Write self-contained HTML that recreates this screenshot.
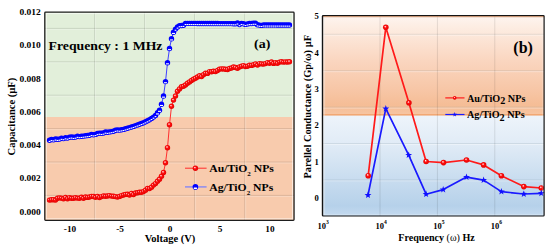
<!DOCTYPE html>
<html><head><meta charset="utf-8"><style>
html,body{margin:0;padding:0;background:#fff;}
body{width:550px;height:249px;overflow:hidden;position:relative;font-family:"Liberation Serif", serif;}
</style></head><body>
<svg width="550" height="249" viewBox="0 0 550 249" style="position:absolute;left:0;top:0">
<defs>
<radialGradient id="rball" cx="0.5" cy="0.5" r="0.55" fx="0.38" fy="0.33"><stop offset="0" stop-color="#ffffff"/><stop offset="0.18" stop-color="#ff9a9a"/><stop offset="0.4" stop-color="#ff1010"/><stop offset="1" stop-color="#e00000"/></radialGradient>
<linearGradient id="gor" x1="0" y1="0" x2="0" y2="1"><stop offset="0" stop-color="#fef5f1"/><stop offset="0.1" stop-color="#fdeee4"/><stop offset="0.45" stop-color="#fad6c0"/><stop offset="0.75" stop-color="#f7c6a6"/><stop offset="0.9" stop-color="#f5bd96"/><stop offset="1" stop-color="#f7c5a2"/></linearGradient>
<linearGradient id="gbl" x1="0" y1="0" x2="0" y2="1"><stop offset="0" stop-color="#eef4fb"/><stop offset="0.3" stop-color="#e0ebf6"/><stop offset="0.9" stop-color="#b6d1ea"/><stop offset="1" stop-color="#c4daef"/></linearGradient>
<clipPath id="clipL"><rect x="45" y="12.5" width="249" height="207.5"/></clipPath>
<clipPath id="clipR"><rect x="323" y="16.5" width="221.5" height="199"/></clipPath>
</defs>
<rect x="44.8" y="12.1" width="249.25" height="104.9" fill="#e2efda"/>
<rect x="44.8" y="117.0" width="249.25" height="103.30000000000001" fill="#f8cbad"/>
<line x1="44.8" x2="294.05" y1="28.40" y2="28.40" stroke="#000" stroke-opacity="0.11" stroke-width="1"/>
<line x1="44.8" x2="294.05" y1="29.40" y2="29.40" stroke="#fff" stroke-opacity="0.25" stroke-width="1"/>
<line x1="44.8" x2="294.05" y1="61.80" y2="61.80" stroke="#000" stroke-opacity="0.11" stroke-width="1"/>
<line x1="44.8" x2="294.05" y1="62.80" y2="62.80" stroke="#fff" stroke-opacity="0.25" stroke-width="1"/>
<line x1="44.8" x2="294.05" y1="95.20" y2="95.20" stroke="#000" stroke-opacity="0.11" stroke-width="1"/>
<line x1="44.8" x2="294.05" y1="96.20" y2="96.20" stroke="#fff" stroke-opacity="0.25" stroke-width="1"/>
<line x1="44.8" x2="294.05" y1="128.60" y2="128.60" stroke="#000" stroke-opacity="0.11" stroke-width="1"/>
<line x1="44.8" x2="294.05" y1="129.60" y2="129.60" stroke="#fff" stroke-opacity="0.25" stroke-width="1"/>
<line x1="44.8" x2="294.05" y1="162.00" y2="162.00" stroke="#000" stroke-opacity="0.11" stroke-width="1"/>
<line x1="44.8" x2="294.05" y1="163.00" y2="163.00" stroke="#fff" stroke-opacity="0.25" stroke-width="1"/>
<line x1="44.8" x2="294.05" y1="195.40" y2="195.40" stroke="#000" stroke-opacity="0.11" stroke-width="1"/>
<line x1="44.8" x2="294.05" y1="196.40" y2="196.40" stroke="#fff" stroke-opacity="0.25" stroke-width="1"/>
<line x1="94.60" x2="94.60" y1="12.1" y2="220.3" stroke="#000" stroke-opacity="0.11" stroke-width="1"/>
<line x1="95.60" x2="95.60" y1="12.1" y2="220.3" stroke="#fff" stroke-opacity="0.25" stroke-width="1"/>
<line x1="144.60" x2="144.60" y1="12.1" y2="220.3" stroke="#000" stroke-opacity="0.11" stroke-width="1"/>
<line x1="145.60" x2="145.60" y1="12.1" y2="220.3" stroke="#fff" stroke-opacity="0.25" stroke-width="1"/>
<line x1="194.60" x2="194.60" y1="12.1" y2="220.3" stroke="#000" stroke-opacity="0.11" stroke-width="1"/>
<line x1="195.60" x2="195.60" y1="12.1" y2="220.3" stroke="#fff" stroke-opacity="0.25" stroke-width="1"/>
<line x1="244.70" x2="244.70" y1="12.1" y2="220.3" stroke="#000" stroke-opacity="0.11" stroke-width="1"/>
<line x1="245.70" x2="245.70" y1="12.1" y2="220.3" stroke="#fff" stroke-opacity="0.25" stroke-width="1"/>
<g clip-path="url(#clipL)">
<polyline fill="none" stroke="#ff3030" stroke-width="1" points="49.5,200.1 51.5,199.8 53.5,199.7 55.5,200.0 57.5,198.2 59.5,197.9 61.5,198.1 63.5,198.8 65.5,197.5 67.5,198.7 69.5,197.7 71.5,198.2 73.5,198.3 75.5,197.7 77.5,198.1 79.5,198.3 81.5,197.2 83.5,198.2 85.5,197.0 87.5,197.4 89.5,197.0 91.5,196.4 93.5,196.5 95.5,197.3 97.5,196.5 99.5,197.5 101.5,196.6 103.5,195.9 105.5,196.3 107.5,196.0 109.5,195.6 111.5,196.1 113.5,196.3 115.5,196.6 117.5,197.1 119.5,196.4 121.5,195.6 123.5,195.0 125.5,194.4 127.5,194.3 129.5,195.0 131.5,193.4 133.5,194.6 135.5,193.0 137.5,192.8 139.5,192.2 141.5,192.3 143.5,191.6 145.5,190.2 147.5,188.5 149.5,188.6 151.5,187.3 153.5,185.1 155.5,183.6 157.5,181.3 159.5,179.2 161.5,176.3 163.5,172.5 165.5,162.8 167.5,147.7 169.5,124.8 171.5,106.2 173.5,100.1 175.5,96.0 177.5,91.3 179.5,88.9 181.5,86.8 183.5,86.2 185.5,85.0 187.5,83.2 189.5,81.9 191.5,80.5 193.5,79.3 195.5,78.3 197.5,77.0 199.5,75.8 201.5,76.6 203.5,74.7 205.5,73.3 207.5,73.4 209.5,71.6 211.5,71.8 213.5,71.2 215.5,71.6 217.5,70.5 219.5,69.1 221.5,68.9 223.5,68.9 225.5,69.2 227.5,69.5 229.5,68.5 231.5,68.0 233.5,67.0 235.5,67.5 237.5,68.2 239.5,66.9 241.5,66.3 243.5,65.6 245.5,66.5 247.5,66.2 249.5,65.3 251.5,65.4 253.5,64.8 255.5,63.9 257.5,65.1 259.5,63.6 261.5,63.9 263.5,64.1 265.5,63.6 267.5,62.6 269.5,63.2 271.5,62.0 273.5,63.4 275.5,62.7 277.5,63.3 279.5,62.1 281.5,61.7 283.5,62.1 285.5,61.9 287.5,62.0 289.5,61.8"/>
<circle cx="49.5" cy="200.1" r="2.7" fill="url(#rball)"/>
<circle cx="51.5" cy="199.8" r="2.7" fill="url(#rball)"/>
<circle cx="53.5" cy="199.7" r="2.7" fill="url(#rball)"/>
<circle cx="55.5" cy="200.0" r="2.7" fill="url(#rball)"/>
<circle cx="57.5" cy="198.2" r="2.7" fill="url(#rball)"/>
<circle cx="59.5" cy="197.9" r="2.7" fill="url(#rball)"/>
<circle cx="61.5" cy="198.1" r="2.7" fill="url(#rball)"/>
<circle cx="63.5" cy="198.8" r="2.7" fill="url(#rball)"/>
<circle cx="65.5" cy="197.5" r="2.7" fill="url(#rball)"/>
<circle cx="67.5" cy="198.7" r="2.7" fill="url(#rball)"/>
<circle cx="69.5" cy="197.7" r="2.7" fill="url(#rball)"/>
<circle cx="71.5" cy="198.2" r="2.7" fill="url(#rball)"/>
<circle cx="73.5" cy="198.3" r="2.7" fill="url(#rball)"/>
<circle cx="75.5" cy="197.7" r="2.7" fill="url(#rball)"/>
<circle cx="77.5" cy="198.1" r="2.7" fill="url(#rball)"/>
<circle cx="79.5" cy="198.3" r="2.7" fill="url(#rball)"/>
<circle cx="81.5" cy="197.2" r="2.7" fill="url(#rball)"/>
<circle cx="83.5" cy="198.2" r="2.7" fill="url(#rball)"/>
<circle cx="85.5" cy="197.0" r="2.7" fill="url(#rball)"/>
<circle cx="87.5" cy="197.4" r="2.7" fill="url(#rball)"/>
<circle cx="89.5" cy="197.0" r="2.7" fill="url(#rball)"/>
<circle cx="91.5" cy="196.4" r="2.7" fill="url(#rball)"/>
<circle cx="93.5" cy="196.5" r="2.7" fill="url(#rball)"/>
<circle cx="95.5" cy="197.3" r="2.7" fill="url(#rball)"/>
<circle cx="97.5" cy="196.5" r="2.7" fill="url(#rball)"/>
<circle cx="99.5" cy="197.5" r="2.7" fill="url(#rball)"/>
<circle cx="101.5" cy="196.6" r="2.7" fill="url(#rball)"/>
<circle cx="103.5" cy="195.9" r="2.7" fill="url(#rball)"/>
<circle cx="105.5" cy="196.3" r="2.7" fill="url(#rball)"/>
<circle cx="107.5" cy="196.0" r="2.7" fill="url(#rball)"/>
<circle cx="109.5" cy="195.6" r="2.7" fill="url(#rball)"/>
<circle cx="111.5" cy="196.1" r="2.7" fill="url(#rball)"/>
<circle cx="113.5" cy="196.3" r="2.7" fill="url(#rball)"/>
<circle cx="115.5" cy="196.6" r="2.7" fill="url(#rball)"/>
<circle cx="117.5" cy="197.1" r="2.7" fill="url(#rball)"/>
<circle cx="119.5" cy="196.4" r="2.7" fill="url(#rball)"/>
<circle cx="121.5" cy="195.6" r="2.7" fill="url(#rball)"/>
<circle cx="123.5" cy="195.0" r="2.7" fill="url(#rball)"/>
<circle cx="125.5" cy="194.4" r="2.7" fill="url(#rball)"/>
<circle cx="127.5" cy="194.3" r="2.7" fill="url(#rball)"/>
<circle cx="129.5" cy="195.0" r="2.7" fill="url(#rball)"/>
<circle cx="131.5" cy="193.4" r="2.7" fill="url(#rball)"/>
<circle cx="133.5" cy="194.6" r="2.7" fill="url(#rball)"/>
<circle cx="135.5" cy="193.0" r="2.7" fill="url(#rball)"/>
<circle cx="137.5" cy="192.8" r="2.7" fill="url(#rball)"/>
<circle cx="139.5" cy="192.2" r="2.7" fill="url(#rball)"/>
<circle cx="141.5" cy="192.3" r="2.7" fill="url(#rball)"/>
<circle cx="143.5" cy="191.6" r="2.7" fill="url(#rball)"/>
<circle cx="145.5" cy="190.2" r="2.7" fill="url(#rball)"/>
<circle cx="147.5" cy="188.5" r="2.7" fill="url(#rball)"/>
<circle cx="149.5" cy="188.6" r="2.7" fill="url(#rball)"/>
<circle cx="151.5" cy="187.3" r="2.7" fill="url(#rball)"/>
<circle cx="153.5" cy="185.1" r="2.7" fill="url(#rball)"/>
<circle cx="155.5" cy="183.6" r="2.7" fill="url(#rball)"/>
<circle cx="157.5" cy="181.3" r="2.7" fill="url(#rball)"/>
<circle cx="159.5" cy="179.2" r="2.7" fill="url(#rball)"/>
<circle cx="161.5" cy="176.3" r="2.7" fill="url(#rball)"/>
<circle cx="163.5" cy="172.5" r="2.7" fill="url(#rball)"/>
<circle cx="165.5" cy="162.8" r="2.7" fill="url(#rball)"/>
<circle cx="167.5" cy="147.7" r="2.7" fill="url(#rball)"/>
<circle cx="169.5" cy="124.8" r="2.7" fill="url(#rball)"/>
<circle cx="171.5" cy="106.2" r="2.7" fill="url(#rball)"/>
<circle cx="173.5" cy="100.1" r="2.7" fill="url(#rball)"/>
<circle cx="175.5" cy="96.0" r="2.7" fill="url(#rball)"/>
<circle cx="177.5" cy="91.3" r="2.7" fill="url(#rball)"/>
<circle cx="179.5" cy="88.9" r="2.7" fill="url(#rball)"/>
<circle cx="181.5" cy="86.8" r="2.7" fill="url(#rball)"/>
<circle cx="183.5" cy="86.2" r="2.7" fill="url(#rball)"/>
<circle cx="185.5" cy="85.0" r="2.7" fill="url(#rball)"/>
<circle cx="187.5" cy="83.2" r="2.7" fill="url(#rball)"/>
<circle cx="189.5" cy="81.9" r="2.7" fill="url(#rball)"/>
<circle cx="191.5" cy="80.5" r="2.7" fill="url(#rball)"/>
<circle cx="193.5" cy="79.3" r="2.7" fill="url(#rball)"/>
<circle cx="195.5" cy="78.3" r="2.7" fill="url(#rball)"/>
<circle cx="197.5" cy="77.0" r="2.7" fill="url(#rball)"/>
<circle cx="199.5" cy="75.8" r="2.7" fill="url(#rball)"/>
<circle cx="201.5" cy="76.6" r="2.7" fill="url(#rball)"/>
<circle cx="203.5" cy="74.7" r="2.7" fill="url(#rball)"/>
<circle cx="205.5" cy="73.3" r="2.7" fill="url(#rball)"/>
<circle cx="207.5" cy="73.4" r="2.7" fill="url(#rball)"/>
<circle cx="209.5" cy="71.6" r="2.7" fill="url(#rball)"/>
<circle cx="211.5" cy="71.8" r="2.7" fill="url(#rball)"/>
<circle cx="213.5" cy="71.2" r="2.7" fill="url(#rball)"/>
<circle cx="215.5" cy="71.6" r="2.7" fill="url(#rball)"/>
<circle cx="217.5" cy="70.5" r="2.7" fill="url(#rball)"/>
<circle cx="219.5" cy="69.1" r="2.7" fill="url(#rball)"/>
<circle cx="221.5" cy="68.9" r="2.7" fill="url(#rball)"/>
<circle cx="223.5" cy="68.9" r="2.7" fill="url(#rball)"/>
<circle cx="225.5" cy="69.2" r="2.7" fill="url(#rball)"/>
<circle cx="227.5" cy="69.5" r="2.7" fill="url(#rball)"/>
<circle cx="229.5" cy="68.5" r="2.7" fill="url(#rball)"/>
<circle cx="231.5" cy="68.0" r="2.7" fill="url(#rball)"/>
<circle cx="233.5" cy="67.0" r="2.7" fill="url(#rball)"/>
<circle cx="235.5" cy="67.5" r="2.7" fill="url(#rball)"/>
<circle cx="237.5" cy="68.2" r="2.7" fill="url(#rball)"/>
<circle cx="239.5" cy="66.9" r="2.7" fill="url(#rball)"/>
<circle cx="241.5" cy="66.3" r="2.7" fill="url(#rball)"/>
<circle cx="243.5" cy="65.6" r="2.7" fill="url(#rball)"/>
<circle cx="245.5" cy="66.5" r="2.7" fill="url(#rball)"/>
<circle cx="247.5" cy="66.2" r="2.7" fill="url(#rball)"/>
<circle cx="249.5" cy="65.3" r="2.7" fill="url(#rball)"/>
<circle cx="251.5" cy="65.4" r="2.7" fill="url(#rball)"/>
<circle cx="253.5" cy="64.8" r="2.7" fill="url(#rball)"/>
<circle cx="255.5" cy="63.9" r="2.7" fill="url(#rball)"/>
<circle cx="257.5" cy="65.1" r="2.7" fill="url(#rball)"/>
<circle cx="259.5" cy="63.6" r="2.7" fill="url(#rball)"/>
<circle cx="261.5" cy="63.9" r="2.7" fill="url(#rball)"/>
<circle cx="263.5" cy="64.1" r="2.7" fill="url(#rball)"/>
<circle cx="265.5" cy="63.6" r="2.7" fill="url(#rball)"/>
<circle cx="267.5" cy="62.6" r="2.7" fill="url(#rball)"/>
<circle cx="269.5" cy="63.2" r="2.7" fill="url(#rball)"/>
<circle cx="271.5" cy="62.0" r="2.7" fill="url(#rball)"/>
<circle cx="273.5" cy="63.4" r="2.7" fill="url(#rball)"/>
<circle cx="275.5" cy="62.7" r="2.7" fill="url(#rball)"/>
<circle cx="277.5" cy="63.3" r="2.7" fill="url(#rball)"/>
<circle cx="279.5" cy="62.1" r="2.7" fill="url(#rball)"/>
<circle cx="281.5" cy="61.7" r="2.7" fill="url(#rball)"/>
<circle cx="283.5" cy="62.1" r="2.7" fill="url(#rball)"/>
<circle cx="285.5" cy="61.9" r="2.7" fill="url(#rball)"/>
<circle cx="287.5" cy="62.0" r="2.7" fill="url(#rball)"/>
<circle cx="289.5" cy="61.8" r="2.7" fill="url(#rball)"/>
<polyline fill="none" stroke="#4040ff" stroke-width="1" points="49.5,140.3 51.5,139.5 53.5,139.8 55.5,139.0 57.5,139.3 59.5,139.1 61.5,138.2 63.5,138.6 65.5,137.7 67.5,138.1 69.5,137.2 71.5,137.0 73.5,137.3 75.5,137.1 77.5,136.2 79.5,136.6 81.5,136.3 83.5,136.1 85.5,135.8 87.5,135.5 89.5,135.3 91.5,134.4 93.5,134.8 95.5,134.4 97.5,133.5 99.5,133.1 101.5,133.3 103.5,133.0 105.5,132.0 107.5,132.3 109.5,131.9 111.5,131.6 113.5,131.2 115.5,130.2 117.5,129.9 119.5,130.1 121.5,129.8 123.5,129.4 125.5,128.8 127.5,128.2 129.5,127.6 131.5,127.0 133.5,126.4 135.5,125.6 137.5,124.9 139.5,124.2 141.5,123.4 143.5,122.7 145.5,121.7 147.5,120.7 149.5,119.7 151.5,118.4 153.5,117.1 155.5,115.4 157.5,112.8 159.5,110.2 161.5,104.3 163.5,96.0 165.5,81.6 167.5,62.7 169.5,48.5 171.5,38.8 173.5,32.3 175.5,29.1 177.5,27.0 179.5,25.6 181.5,25.5 183.5,25.3 185.5,23.4 187.5,23.4 189.5,23.4 191.5,23.4 193.5,23.4 195.5,23.4 197.5,23.5 199.5,23.5 201.5,23.5 203.5,23.5 205.5,23.5 207.5,23.5 209.5,23.5 211.5,23.5 213.5,23.5 215.5,23.5 217.5,23.5 219.5,23.6 221.5,23.6 223.5,23.6 225.5,23.6 227.5,23.6 229.5,23.6 231.5,23.6 233.5,23.7 235.5,23.7 237.5,22.9 239.5,24.5 241.5,23.4 243.5,23.8 245.5,24.4 247.5,23.9 249.5,23.5 251.5,23.5 253.5,23.1 255.5,23.2 257.5,24.8 259.5,25.1 261.5,25.4 263.5,24.9 265.5,24.9 267.5,24.9 269.5,24.9 271.5,24.9 273.5,24.9 275.5,24.9 277.5,25.0 279.5,25.0 281.5,25.0 283.5,25.0 285.5,25.0 287.5,25.0 289.5,25.0"/>
<circle cx="49.5" cy="140.3" r="2.7" fill="#0000ff"/>
<circle cx="51.5" cy="139.5" r="2.7" fill="#0000ff"/>
<circle cx="53.5" cy="139.8" r="2.7" fill="#0000ff"/>
<circle cx="55.5" cy="139.0" r="2.7" fill="#0000ff"/>
<circle cx="57.5" cy="139.3" r="2.7" fill="#0000ff"/>
<circle cx="59.5" cy="139.1" r="2.7" fill="#0000ff"/>
<circle cx="61.5" cy="138.2" r="2.7" fill="#0000ff"/>
<circle cx="63.5" cy="138.6" r="2.7" fill="#0000ff"/>
<circle cx="65.5" cy="137.7" r="2.7" fill="#0000ff"/>
<circle cx="67.5" cy="138.1" r="2.7" fill="#0000ff"/>
<circle cx="69.5" cy="137.2" r="2.7" fill="#0000ff"/>
<circle cx="71.5" cy="137.0" r="2.7" fill="#0000ff"/>
<circle cx="73.5" cy="137.3" r="2.7" fill="#0000ff"/>
<circle cx="75.5" cy="137.1" r="2.7" fill="#0000ff"/>
<circle cx="77.5" cy="136.2" r="2.7" fill="#0000ff"/>
<circle cx="79.5" cy="136.6" r="2.7" fill="#0000ff"/>
<circle cx="81.5" cy="136.3" r="2.7" fill="#0000ff"/>
<circle cx="83.5" cy="136.1" r="2.7" fill="#0000ff"/>
<circle cx="85.5" cy="135.8" r="2.7" fill="#0000ff"/>
<circle cx="87.5" cy="135.5" r="2.7" fill="#0000ff"/>
<circle cx="89.5" cy="135.3" r="2.7" fill="#0000ff"/>
<circle cx="91.5" cy="134.4" r="2.7" fill="#0000ff"/>
<circle cx="93.5" cy="134.8" r="2.7" fill="#0000ff"/>
<circle cx="95.5" cy="134.4" r="2.7" fill="#0000ff"/>
<circle cx="97.5" cy="133.5" r="2.7" fill="#0000ff"/>
<circle cx="99.5" cy="133.1" r="2.7" fill="#0000ff"/>
<circle cx="101.5" cy="133.3" r="2.7" fill="#0000ff"/>
<circle cx="103.5" cy="133.0" r="2.7" fill="#0000ff"/>
<circle cx="105.5" cy="132.0" r="2.7" fill="#0000ff"/>
<circle cx="107.5" cy="132.3" r="2.7" fill="#0000ff"/>
<circle cx="109.5" cy="131.9" r="2.7" fill="#0000ff"/>
<circle cx="111.5" cy="131.6" r="2.7" fill="#0000ff"/>
<circle cx="113.5" cy="131.2" r="2.7" fill="#0000ff"/>
<circle cx="115.5" cy="130.2" r="2.7" fill="#0000ff"/>
<circle cx="117.5" cy="129.9" r="2.7" fill="#0000ff"/>
<circle cx="119.5" cy="130.1" r="2.7" fill="#0000ff"/>
<circle cx="121.5" cy="129.8" r="2.7" fill="#0000ff"/>
<circle cx="123.5" cy="129.4" r="2.7" fill="#0000ff"/>
<circle cx="125.5" cy="128.8" r="2.7" fill="#0000ff"/>
<circle cx="127.5" cy="128.2" r="2.7" fill="#0000ff"/>
<circle cx="129.5" cy="127.6" r="2.7" fill="#0000ff"/>
<circle cx="131.5" cy="127.0" r="2.7" fill="#0000ff"/>
<circle cx="133.5" cy="126.4" r="2.7" fill="#0000ff"/>
<circle cx="135.5" cy="125.6" r="2.7" fill="#0000ff"/>
<circle cx="137.5" cy="124.9" r="2.7" fill="#0000ff"/>
<circle cx="139.5" cy="124.2" r="2.7" fill="#0000ff"/>
<circle cx="141.5" cy="123.4" r="2.7" fill="#0000ff"/>
<circle cx="143.5" cy="122.7" r="2.7" fill="#0000ff"/>
<circle cx="145.5" cy="121.7" r="2.7" fill="#0000ff"/>
<circle cx="147.5" cy="120.7" r="2.7" fill="#0000ff"/>
<circle cx="149.5" cy="119.7" r="2.7" fill="#0000ff"/>
<circle cx="151.5" cy="118.4" r="2.7" fill="#0000ff"/>
<circle cx="153.5" cy="117.1" r="2.7" fill="#0000ff"/>
<circle cx="155.5" cy="115.4" r="2.7" fill="#0000ff"/>
<circle cx="157.5" cy="112.8" r="2.7" fill="#0000ff"/>
<circle cx="159.5" cy="110.2" r="2.7" fill="#0000ff"/>
<circle cx="161.5" cy="104.3" r="2.7" fill="#0000ff"/>
<circle cx="163.5" cy="96.0" r="2.7" fill="#0000ff"/>
<circle cx="165.5" cy="81.6" r="2.7" fill="#0000ff"/>
<circle cx="167.5" cy="62.7" r="2.7" fill="#0000ff"/>
<circle cx="169.5" cy="48.5" r="2.7" fill="#0000ff"/>
<circle cx="171.5" cy="38.8" r="2.7" fill="#0000ff"/>
<circle cx="173.5" cy="32.3" r="2.7" fill="#0000ff"/>
<circle cx="175.5" cy="29.1" r="2.7" fill="#0000ff"/>
<circle cx="177.5" cy="27.0" r="2.7" fill="#0000ff"/>
<circle cx="179.5" cy="25.6" r="2.7" fill="#0000ff"/>
<circle cx="181.5" cy="25.5" r="2.7" fill="#0000ff"/>
<circle cx="183.5" cy="25.3" r="2.7" fill="#0000ff"/>
<circle cx="185.5" cy="23.4" r="2.7" fill="#0000ff"/>
<circle cx="187.5" cy="23.4" r="2.7" fill="#0000ff"/>
<circle cx="189.5" cy="23.4" r="2.7" fill="#0000ff"/>
<circle cx="191.5" cy="23.4" r="2.7" fill="#0000ff"/>
<circle cx="193.5" cy="23.4" r="2.7" fill="#0000ff"/>
<circle cx="195.5" cy="23.4" r="2.7" fill="#0000ff"/>
<circle cx="197.5" cy="23.5" r="2.7" fill="#0000ff"/>
<circle cx="199.5" cy="23.5" r="2.7" fill="#0000ff"/>
<circle cx="201.5" cy="23.5" r="2.7" fill="#0000ff"/>
<circle cx="203.5" cy="23.5" r="2.7" fill="#0000ff"/>
<circle cx="205.5" cy="23.5" r="2.7" fill="#0000ff"/>
<circle cx="207.5" cy="23.5" r="2.7" fill="#0000ff"/>
<circle cx="209.5" cy="23.5" r="2.7" fill="#0000ff"/>
<circle cx="211.5" cy="23.5" r="2.7" fill="#0000ff"/>
<circle cx="213.5" cy="23.5" r="2.7" fill="#0000ff"/>
<circle cx="215.5" cy="23.5" r="2.7" fill="#0000ff"/>
<circle cx="217.5" cy="23.5" r="2.7" fill="#0000ff"/>
<circle cx="219.5" cy="23.6" r="2.7" fill="#0000ff"/>
<circle cx="221.5" cy="23.6" r="2.7" fill="#0000ff"/>
<circle cx="223.5" cy="23.6" r="2.7" fill="#0000ff"/>
<circle cx="225.5" cy="23.6" r="2.7" fill="#0000ff"/>
<circle cx="227.5" cy="23.6" r="2.7" fill="#0000ff"/>
<circle cx="229.5" cy="23.6" r="2.7" fill="#0000ff"/>
<circle cx="231.5" cy="23.6" r="2.7" fill="#0000ff"/>
<circle cx="233.5" cy="23.7" r="2.7" fill="#0000ff"/>
<circle cx="235.5" cy="23.7" r="2.7" fill="#0000ff"/>
<circle cx="237.5" cy="22.9" r="2.7" fill="#0000ff"/>
<circle cx="239.5" cy="24.5" r="2.7" fill="#0000ff"/>
<circle cx="241.5" cy="23.4" r="2.7" fill="#0000ff"/>
<circle cx="243.5" cy="23.8" r="2.7" fill="#0000ff"/>
<circle cx="245.5" cy="24.4" r="2.7" fill="#0000ff"/>
<circle cx="247.5" cy="23.9" r="2.7" fill="#0000ff"/>
<circle cx="249.5" cy="23.5" r="2.7" fill="#0000ff"/>
<circle cx="251.5" cy="23.5" r="2.7" fill="#0000ff"/>
<circle cx="253.5" cy="23.1" r="2.7" fill="#0000ff"/>
<circle cx="255.5" cy="23.2" r="2.7" fill="#0000ff"/>
<circle cx="257.5" cy="24.8" r="2.7" fill="#0000ff"/>
<circle cx="259.5" cy="25.1" r="2.7" fill="#0000ff"/>
<circle cx="261.5" cy="25.4" r="2.7" fill="#0000ff"/>
<circle cx="263.5" cy="24.9" r="2.7" fill="#0000ff"/>
<circle cx="265.5" cy="24.9" r="2.7" fill="#0000ff"/>
<circle cx="267.5" cy="24.9" r="2.7" fill="#0000ff"/>
<circle cx="269.5" cy="24.9" r="2.7" fill="#0000ff"/>
<circle cx="271.5" cy="24.9" r="2.7" fill="#0000ff"/>
<circle cx="273.5" cy="24.9" r="2.7" fill="#0000ff"/>
<circle cx="275.5" cy="24.9" r="2.7" fill="#0000ff"/>
<circle cx="277.5" cy="25.0" r="2.7" fill="#0000ff"/>
<circle cx="279.5" cy="25.0" r="2.7" fill="#0000ff"/>
<circle cx="281.5" cy="25.0" r="2.7" fill="#0000ff"/>
<circle cx="283.5" cy="25.0" r="2.7" fill="#0000ff"/>
<circle cx="285.5" cy="25.0" r="2.7" fill="#0000ff"/>
<circle cx="287.5" cy="25.0" r="2.7" fill="#0000ff"/>
<circle cx="289.5" cy="25.0" r="2.7" fill="#0000ff"/>
<rect x="48.65" y="140.90" width="1.7" height="1.1" fill="#fff"/>
<rect x="50.65" y="140.05" width="1.7" height="1.1" fill="#fff"/>
<rect x="52.65" y="140.40" width="1.7" height="1.1" fill="#fff"/>
<rect x="54.65" y="139.56" width="1.7" height="1.1" fill="#fff"/>
<rect x="56.65" y="139.91" width="1.7" height="1.1" fill="#fff"/>
<rect x="58.65" y="139.66" width="1.7" height="1.1" fill="#fff"/>
<rect x="60.65" y="138.81" width="1.7" height="1.1" fill="#fff"/>
<rect x="62.65" y="139.16" width="1.7" height="1.1" fill="#fff"/>
<rect x="64.65" y="138.31" width="1.7" height="1.1" fill="#fff"/>
<rect x="66.65" y="138.66" width="1.7" height="1.1" fill="#fff"/>
<rect x="68.65" y="137.81" width="1.7" height="1.1" fill="#fff"/>
<rect x="70.65" y="137.56" width="1.7" height="1.1" fill="#fff"/>
<rect x="72.65" y="137.91" width="1.7" height="1.1" fill="#fff"/>
<rect x="74.65" y="137.66" width="1.7" height="1.1" fill="#fff"/>
<rect x="76.65" y="136.81" width="1.7" height="1.1" fill="#fff"/>
<rect x="78.65" y="137.16" width="1.7" height="1.1" fill="#fff"/>
<rect x="80.65" y="136.91" width="1.7" height="1.1" fill="#fff"/>
<rect x="82.65" y="136.66" width="1.7" height="1.1" fill="#fff"/>
<rect x="84.65" y="136.41" width="1.7" height="1.1" fill="#fff"/>
<rect x="86.65" y="136.14" width="1.7" height="1.1" fill="#fff"/>
<rect x="88.65" y="135.88" width="1.7" height="1.1" fill="#fff"/>
<rect x="90.65" y="135.02" width="1.7" height="1.1" fill="#fff"/>
<rect x="92.65" y="135.36" width="1.7" height="1.1" fill="#fff"/>
<rect x="94.65" y="135.03" width="1.7" height="1.1" fill="#fff"/>
<rect x="96.65" y="134.07" width="1.7" height="1.1" fill="#fff"/>
<rect x="98.65" y="133.71" width="1.7" height="1.1" fill="#fff"/>
<rect x="100.65" y="133.95" width="1.7" height="1.1" fill="#fff"/>
<rect x="102.65" y="133.59" width="1.7" height="1.1" fill="#fff"/>
<rect x="104.65" y="132.63" width="1.7" height="1.1" fill="#fff"/>
<rect x="106.65" y="132.87" width="1.7" height="1.1" fill="#fff"/>
<rect x="108.65" y="132.51" width="1.7" height="1.1" fill="#fff"/>
<rect x="110.65" y="132.15" width="1.7" height="1.1" fill="#fff"/>
<rect x="112.65" y="131.79" width="1.7" height="1.1" fill="#fff"/>
<rect x="114.65" y="130.83" width="1.7" height="1.1" fill="#fff"/>
<rect x="116.65" y="130.47" width="1.7" height="1.1" fill="#fff"/>
<rect x="118.65" y="130.71" width="1.7" height="1.1" fill="#fff"/>
<rect x="120.65" y="130.35" width="1.7" height="1.1" fill="#fff"/>
<rect x="122.65" y="129.99" width="1.7" height="1.1" fill="#fff"/>
<rect x="124.65" y="129.44" width="1.7" height="1.1" fill="#fff"/>
<rect x="126.65" y="128.81" width="1.7" height="1.1" fill="#fff"/>
<rect x="128.65" y="128.20" width="1.7" height="1.1" fill="#fff"/>
<rect x="130.65" y="127.58" width="1.7" height="1.1" fill="#fff"/>
<rect x="132.65" y="126.95" width="1.7" height="1.1" fill="#fff"/>
<rect x="134.65" y="126.24" width="1.7" height="1.1" fill="#fff"/>
<rect x="136.65" y="125.50" width="1.7" height="1.1" fill="#fff"/>
<rect x="138.65" y="124.77" width="1.7" height="1.1" fill="#fff"/>
<rect x="140.65" y="124.02" width="1.7" height="1.1" fill="#fff"/>
<rect x="142.65" y="123.28" width="1.7" height="1.1" fill="#fff"/>
<rect x="144.65" y="122.32" width="1.7" height="1.1" fill="#fff"/>
<rect x="146.65" y="121.29" width="1.7" height="1.1" fill="#fff"/>
<rect x="148.65" y="120.26" width="1.7" height="1.1" fill="#fff"/>
<rect x="150.65" y="119.01" width="1.7" height="1.1" fill="#fff"/>
<rect x="152.65" y="117.69" width="1.7" height="1.1" fill="#fff"/>
<rect x="154.65" y="116.04" width="1.7" height="1.1" fill="#fff"/>
<rect x="156.00" y="113.40" width="3.0" height="1.1" fill="#fff"/>
<rect x="158.00" y="110.80" width="3.0" height="1.1" fill="#fff"/>
<rect x="160.00" y="104.90" width="3.0" height="1.1" fill="#fff"/>
<rect x="162.00" y="96.60" width="3.0" height="1.1" fill="#fff"/>
<rect x="164.00" y="82.20" width="3.0" height="1.1" fill="#fff"/>
<rect x="166.00" y="63.30" width="3.0" height="1.1" fill="#fff"/>
<rect x="168.00" y="49.10" width="3.0" height="1.1" fill="#fff"/>
<rect x="170.00" y="39.40" width="3.0" height="1.1" fill="#fff"/>
<rect x="172.00" y="32.90" width="3.0" height="1.1" fill="#fff"/>
<rect x="174.65" y="29.70" width="1.7" height="1.1" fill="#fff"/>
<rect x="176.65" y="27.60" width="1.7" height="1.1" fill="#fff"/>
<rect x="178.65" y="26.20" width="1.7" height="1.1" fill="#fff"/>
<rect x="180.65" y="26.05" width="1.7" height="1.1" fill="#fff"/>
<rect x="182.65" y="25.90" width="1.7" height="1.1" fill="#fff"/>
<rect x="184.65" y="24.00" width="1.7" height="1.1" fill="#fff"/>
<rect x="186.65" y="24.01" width="1.7" height="1.1" fill="#fff"/>
<rect x="188.65" y="24.02" width="1.7" height="1.1" fill="#fff"/>
<rect x="190.65" y="24.03" width="1.7" height="1.1" fill="#fff"/>
<rect x="192.65" y="24.04" width="1.7" height="1.1" fill="#fff"/>
<rect x="194.65" y="24.04" width="1.7" height="1.1" fill="#fff"/>
<rect x="196.65" y="24.05" width="1.7" height="1.1" fill="#fff"/>
<rect x="198.65" y="24.06" width="1.7" height="1.1" fill="#fff"/>
<rect x="200.65" y="24.07" width="1.7" height="1.1" fill="#fff"/>
<rect x="202.65" y="24.08" width="1.7" height="1.1" fill="#fff"/>
<rect x="204.65" y="24.09" width="1.7" height="1.1" fill="#fff"/>
<rect x="206.65" y="24.10" width="1.7" height="1.1" fill="#fff"/>
<rect x="208.65" y="24.11" width="1.7" height="1.1" fill="#fff"/>
<rect x="210.65" y="24.12" width="1.7" height="1.1" fill="#fff"/>
<rect x="212.65" y="24.13" width="1.7" height="1.1" fill="#fff"/>
<rect x="214.65" y="24.13" width="1.7" height="1.1" fill="#fff"/>
<rect x="216.65" y="24.14" width="1.7" height="1.1" fill="#fff"/>
<rect x="218.65" y="24.15" width="1.7" height="1.1" fill="#fff"/>
<rect x="220.65" y="24.16" width="1.7" height="1.1" fill="#fff"/>
<rect x="222.65" y="24.17" width="1.7" height="1.1" fill="#fff"/>
<rect x="224.65" y="24.18" width="1.7" height="1.1" fill="#fff"/>
<rect x="226.65" y="24.19" width="1.7" height="1.1" fill="#fff"/>
<rect x="228.65" y="24.20" width="1.7" height="1.1" fill="#fff"/>
<rect x="230.65" y="24.22" width="1.7" height="1.1" fill="#fff"/>
<rect x="232.65" y="24.25" width="1.7" height="1.1" fill="#fff"/>
<rect x="234.65" y="24.28" width="1.7" height="1.1" fill="#fff"/>
<rect x="236.65" y="23.51" width="1.7" height="1.1" fill="#fff"/>
<rect x="238.65" y="25.14" width="1.7" height="1.1" fill="#fff"/>
<rect x="240.65" y="23.96" width="1.7" height="1.1" fill="#fff"/>
<rect x="242.65" y="24.39" width="1.7" height="1.1" fill="#fff"/>
<rect x="244.65" y="25.02" width="1.7" height="1.1" fill="#fff"/>
<rect x="246.65" y="24.45" width="1.7" height="1.1" fill="#fff"/>
<rect x="248.65" y="24.08" width="1.7" height="1.1" fill="#fff"/>
<rect x="250.65" y="24.11" width="1.7" height="1.1" fill="#fff"/>
<rect x="252.65" y="23.74" width="1.7" height="1.1" fill="#fff"/>
<rect x="254.65" y="23.76" width="1.7" height="1.1" fill="#fff"/>
<rect x="256.65" y="25.39" width="1.7" height="1.1" fill="#fff"/>
<rect x="258.65" y="25.74" width="1.7" height="1.1" fill="#fff"/>
<rect x="260.65" y="25.99" width="1.7" height="1.1" fill="#fff"/>
<rect x="262.65" y="25.51" width="1.7" height="1.1" fill="#fff"/>
<rect x="264.65" y="25.51" width="1.7" height="1.1" fill="#fff"/>
<rect x="266.65" y="25.52" width="1.7" height="1.1" fill="#fff"/>
<rect x="268.65" y="25.53" width="1.7" height="1.1" fill="#fff"/>
<rect x="270.65" y="25.53" width="1.7" height="1.1" fill="#fff"/>
<rect x="272.65" y="25.54" width="1.7" height="1.1" fill="#fff"/>
<rect x="274.65" y="25.55" width="1.7" height="1.1" fill="#fff"/>
<rect x="276.65" y="25.56" width="1.7" height="1.1" fill="#fff"/>
<rect x="278.65" y="25.56" width="1.7" height="1.1" fill="#fff"/>
<rect x="280.65" y="25.57" width="1.7" height="1.1" fill="#fff"/>
<rect x="282.65" y="25.58" width="1.7" height="1.1" fill="#fff"/>
<rect x="284.65" y="25.58" width="1.7" height="1.1" fill="#fff"/>
<rect x="286.65" y="25.59" width="1.7" height="1.1" fill="#fff"/>
<rect x="288.65" y="25.60" width="1.7" height="1.1" fill="#fff"/>
</g>
<rect x="46.3" y="13.6" width="246.25" height="205.20000000000002" fill="none" stroke="#fff" stroke-opacity="0.6" stroke-width="1"/>
<rect x="44.8" y="12.1" width="249.25" height="208.20000000000002" rx="0.8" fill="none" stroke="#1e1e1e" stroke-width="1.3"/>
<text transform="translate(40.80,15.20) scale(1,0.93)" x="0" y="0" text-anchor="end" font-family='"Liberation Serif", serif' font-weight="bold" font-size="9.5">0.012</text>
<text transform="translate(40.80,48.43) scale(1,0.93)" x="0" y="0" text-anchor="end" font-family='"Liberation Serif", serif' font-weight="bold" font-size="9.5">0.010</text>
<text transform="translate(40.80,81.66) scale(1,0.93)" x="0" y="0" text-anchor="end" font-family='"Liberation Serif", serif' font-weight="bold" font-size="9.5">0.008</text>
<text transform="translate(40.80,114.89) scale(1,0.93)" x="0" y="0" text-anchor="end" font-family='"Liberation Serif", serif' font-weight="bold" font-size="9.5">0.006</text>
<text transform="translate(40.80,148.12) scale(1,0.93)" x="0" y="0" text-anchor="end" font-family='"Liberation Serif", serif' font-weight="bold" font-size="9.5">0.004</text>
<text transform="translate(40.80,181.35) scale(1,0.93)" x="0" y="0" text-anchor="end" font-family='"Liberation Serif", serif' font-weight="bold" font-size="9.5">0.002</text>
<text transform="translate(40.80,214.58) scale(1,0.93)" x="0" y="0" text-anchor="end" font-family='"Liberation Serif", serif' font-weight="bold" font-size="9.5">0.000</text>
<text transform="translate(70.00,232.40) scale(1,0.93)" x="0" y="0" text-anchor="middle" font-family='"Liberation Serif", serif' font-weight="bold" font-size="9.3">-10</text>
<text transform="translate(120.00,232.40) scale(1,0.93)" x="0" y="0" text-anchor="middle" font-family='"Liberation Serif", serif' font-weight="bold" font-size="9.3">-5</text>
<text transform="translate(170.00,232.40) scale(1,0.93)" x="0" y="0" text-anchor="middle" font-family='"Liberation Serif", serif' font-weight="bold" font-size="9.3">0</text>
<text transform="translate(220.00,232.40) scale(1,0.93)" x="0" y="0" text-anchor="middle" font-family='"Liberation Serif", serif' font-weight="bold" font-size="9.3">5</text>
<text transform="translate(270.00,232.40) scale(1,0.93)" x="0" y="0" text-anchor="middle" font-family='"Liberation Serif", serif' font-weight="bold" font-size="9.3">10</text>
<text transform="translate(170.00,242.00) scale(1,0.95)" x="0" y="0" text-anchor="middle" font-family='"Liberation Serif", serif' font-weight="bold" font-size="10.5">Voltage (V)</text>
<text transform="translate(15.0,116.6) rotate(-90) scale(1,0.93)" x="0" y="0" text-anchor="middle" font-family='"Liberation Serif", serif' font-weight="bold" font-size="10.55">Capacitance (µF)</text>
<text transform="translate(48.60,50.30) scale(1,0.92)" x="0" y="0" font-family='"Liberation Serif", serif' font-weight="bold" font-size="13.75">Frequency : 1 MHz</text>
<text transform="translate(254.00,48.20) scale(1,0.93)" x="0" y="0" font-family='"Liberation Serif", serif' font-weight="bold" font-size="14">(a)</text>
<line x1="185" x2="206.6" y1="168.2" y2="168.2" stroke="#ff2a2a" stroke-width="1"/>
<circle cx="195.4" cy="168.2" r="2.7" fill="url(#rball)"/>
<line x1="185" x2="206.6" y1="186.9" y2="186.9" stroke="#8c8cf0" stroke-width="1.5"/>
<circle cx="195.4" cy="186.9" r="2.8" fill="#0000ff"/>
<rect x="193.7" y="187.5" width="3.4" height="1.4" rx="0.4" fill="#fff"/>
<text transform="translate(209.20,172.10) scale(1,0.93)" x="0" y="0" font-family='"Liberation Serif", serif' font-weight="bold" font-size="11.7">Au/TiO<tspan font-size="7" dy="4.3">2</tspan><tspan dy="-4.3"> NPs</tspan></text>
<text transform="translate(209.20,190.50) scale(1,0.93)" x="0" y="0" font-family='"Liberation Serif", serif' font-weight="bold" font-size="11.7">Ag/TiO<tspan font-size="7" dy="4.3">2</tspan><tspan dy="-4.3"> NPs</tspan></text>
<rect x="322.4" y="15.5" width="221.70000000000005" height="99.4" fill="url(#gor)"/>
<rect x="322.4" y="114.9" width="221.70000000000005" height="101.1" fill="url(#gbl)"/>
<line x1="322.4" x2="544.1" y1="114.9" y2="114.9" stroke="#f09a5e" stroke-width="1.1"/>
<line x1="322.4" x2="544.1" y1="34.30" y2="34.30" stroke="#6a7a88" stroke-opacity="0.16" stroke-width="1"/>
<line x1="322.4" x2="544.1" y1="35.30" y2="35.30" stroke="#ffffff" stroke-opacity="0.35" stroke-width="1"/>
<line x1="322.4" x2="544.1" y1="70.70" y2="70.70" stroke="#6a7a88" stroke-opacity="0.16" stroke-width="1"/>
<line x1="322.4" x2="544.1" y1="71.70" y2="71.70" stroke="#ffffff" stroke-opacity="0.35" stroke-width="1"/>
<line x1="322.4" x2="544.1" y1="107.10" y2="107.10" stroke="#6a7a88" stroke-opacity="0.16" stroke-width="1"/>
<line x1="322.4" x2="544.1" y1="108.10" y2="108.10" stroke="#ffffff" stroke-opacity="0.35" stroke-width="1"/>
<line x1="322.4" x2="544.1" y1="143.50" y2="143.50" stroke="#6a7a88" stroke-opacity="0.16" stroke-width="1"/>
<line x1="322.4" x2="544.1" y1="144.50" y2="144.50" stroke="#ffffff" stroke-opacity="0.35" stroke-width="1"/>
<line x1="322.4" x2="544.1" y1="179.90" y2="179.90" stroke="#6a7a88" stroke-opacity="0.16" stroke-width="1"/>
<line x1="322.4" x2="544.1" y1="180.90" y2="180.90" stroke="#ffffff" stroke-opacity="0.35" stroke-width="1"/>
<line x1="380.00" x2="380.00" y1="15.5" y2="216.0" stroke="#000" stroke-opacity="0.1" stroke-width="1"/>
<line x1="437.40" x2="437.40" y1="15.5" y2="216.0" stroke="#000" stroke-opacity="0.1" stroke-width="1"/>
<line x1="494.80" x2="494.80" y1="15.5" y2="216.0" stroke="#000" stroke-opacity="0.1" stroke-width="1"/>
<g clip-path="url(#clipR)">
<polyline fill="none" stroke="#ff1a1a" stroke-width="1.7" stroke-linejoin="round" points="368.2,175.7 385.8,27.3 408.9,102.8 426.1,161.5 443.5,162.6 466.5,160.0 483.6,164.9 501.4,175.7 523.8,186.6 541.3,188.0"/>
<polyline fill="none" stroke="#1a1aff" stroke-width="1.7" stroke-linejoin="round" points="368.0,195.2 385.8,108.7 408.7,155.1 426.1,194.2 443.2,189.6 466.5,177.1 483.6,180.1 501.4,191.6 523.8,194.0 541.3,193.3"/>
<circle cx="368.2" cy="175.7" r="2.8" fill="url(#rball)"/>
<circle cx="385.8" cy="27.3" r="2.8" fill="url(#rball)"/>
<circle cx="408.9" cy="102.8" r="2.8" fill="url(#rball)"/>
<circle cx="426.1" cy="161.5" r="2.8" fill="url(#rball)"/>
<circle cx="443.5" cy="162.6" r="2.8" fill="url(#rball)"/>
<circle cx="466.5" cy="160.0" r="2.8" fill="url(#rball)"/>
<circle cx="483.6" cy="164.9" r="2.8" fill="url(#rball)"/>
<circle cx="501.4" cy="175.7" r="2.8" fill="url(#rball)"/>
<circle cx="523.8" cy="186.6" r="2.8" fill="url(#rball)"/>
<circle cx="541.3" cy="188.0" r="2.8" fill="url(#rball)"/>
<polygon points="368.00,191.60 368.88,193.99 371.42,194.09 369.43,195.66 370.12,198.11 368.00,196.70 365.88,198.11 366.57,195.66 364.58,194.09 367.12,193.99" fill="#1010ff"/>
<polygon points="385.80,105.10 386.68,107.49 389.22,107.59 387.23,109.16 387.92,111.61 385.80,110.20 383.68,111.61 384.37,109.16 382.38,107.59 384.92,107.49" fill="#1010ff"/>
<polygon points="408.70,151.50 409.58,153.89 412.12,153.99 410.13,155.56 410.82,158.01 408.70,156.60 406.58,158.01 407.27,155.56 405.28,153.99 407.82,153.89" fill="#1010ff"/>
<polygon points="426.10,190.60 426.98,192.99 429.52,193.09 427.53,194.66 428.22,197.11 426.10,195.70 423.98,197.11 424.67,194.66 422.68,193.09 425.22,192.99" fill="#1010ff"/>
<polygon points="443.20,186.00 444.08,188.39 446.62,188.49 444.63,190.06 445.32,192.51 443.20,191.10 441.08,192.51 441.77,190.06 439.78,188.49 442.32,188.39" fill="#1010ff"/>
<polygon points="466.50,173.50 467.38,175.89 469.92,175.99 467.93,177.56 468.62,180.01 466.50,178.60 464.38,180.01 465.07,177.56 463.08,175.99 465.62,175.89" fill="#1010ff"/>
<polygon points="483.60,176.50 484.48,178.89 487.02,178.99 485.03,180.56 485.72,183.01 483.60,181.60 481.48,183.01 482.17,180.56 480.18,178.99 482.72,178.89" fill="#1010ff"/>
<polygon points="501.40,188.00 502.28,190.39 504.82,190.49 502.83,192.06 503.52,194.51 501.40,193.10 499.28,194.51 499.97,192.06 497.98,190.49 500.52,190.39" fill="#1010ff"/>
<polygon points="523.80,190.40 524.68,192.79 527.22,192.89 525.23,194.46 525.92,196.91 523.80,195.50 521.68,196.91 522.37,194.46 520.38,192.89 522.92,192.79" fill="#1010ff"/>
<polygon points="541.30,189.70 542.18,192.09 544.72,192.19 542.73,193.76 543.42,196.21 541.30,194.80 539.18,196.21 539.87,193.76 537.88,192.19 540.42,192.09" fill="#1010ff"/>
</g>
<line x1="322.4" x2="544.1" y1="16.7" y2="16.7" stroke="#a85a28" stroke-opacity="0.85" stroke-width="1"/>
<line x1="323.59999999999997" x2="323.59999999999997" y1="15.5" y2="216.0" stroke="#000" stroke-opacity="0.28" stroke-width="1"/>
<line x1="324.59999999999997" x2="324.59999999999997" y1="17.2" y2="215.0" stroke="#fff" stroke-opacity="0.35" stroke-width="1"/>
<rect x="323.59999999999997" y="17.1" width="219.30000000000004" height="197.7" fill="none" stroke="#fff" stroke-opacity="0.35" stroke-width="0.8"/>
<rect x="322.4" y="15.5" width="221.70000000000005" height="200.5" rx="0.8" fill="none" stroke="#141414" stroke-width="1.2"/>
<text x="318.8" y="201.10" text-anchor="end" font-family='"Liberation Serif", serif' font-weight="bold" font-size="8.6">0</text>
<text x="318.8" y="164.70" text-anchor="end" font-family='"Liberation Serif", serif' font-weight="bold" font-size="8.6">1</text>
<text x="318.8" y="128.30" text-anchor="end" font-family='"Liberation Serif", serif' font-weight="bold" font-size="8.6">2</text>
<text x="318.8" y="91.90" text-anchor="end" font-family='"Liberation Serif", serif' font-weight="bold" font-size="8.6">3</text>
<text x="318.8" y="55.50" text-anchor="end" font-family='"Liberation Serif", serif' font-weight="bold" font-size="8.6">4</text>
<text x="318.8" y="19.10" text-anchor="end" font-family='"Liberation Serif", serif' font-weight="bold" font-size="8.6">5</text>
<text x="317.6" y="228.6" font-family='"Liberation Serif", serif' font-weight="bold" font-size="8.5">10<tspan font-size="5.6" dy="-4.2">3</tspan></text>
<text x="375.5" y="228.6" font-family='"Liberation Serif", serif' font-weight="bold" font-size="8.5">10<tspan font-size="5.6" dy="-4.2">4</tspan></text>
<text x="433.3" y="228.6" font-family='"Liberation Serif", serif' font-weight="bold" font-size="8.5">10<tspan font-size="5.6" dy="-4.2">5</tspan></text>
<text x="490.7" y="228.6" font-family='"Liberation Serif", serif' font-weight="bold" font-size="8.5">10<tspan font-size="5.6" dy="-4.2">6</tspan></text>
<text transform="translate(436.50,240.90) scale(1,0.95)" x="0" y="0" text-anchor="middle" font-family='"Liberation Serif", serif' font-weight="bold" font-size="10.1">Frequency <tspan font-weight="normal">(ω)</tspan> Hz</text>
<text transform="translate(311.1,106.8) rotate(-90)" x="0" y="0" text-anchor="middle" font-family='"Liberation Serif", serif' font-weight="bold" font-size="10.4">Parellel Conductance (Gp/ω) µF</text>
<text x="513.3" y="53.2" font-family='"Liberation Serif", serif' font-weight="bold" font-size="16">(b)</text>
<line x1="445.3" x2="464.5" y1="97.9" y2="97.9" stroke="#ff1a1a" stroke-width="1.2"/>
<circle cx="454.7" cy="97.9" r="1.8" fill="url(#rball)"/>
<line x1="445.3" x2="464.5" y1="114.5" y2="114.5" stroke="#1a1aff" stroke-width="1.2"/>
<polygon points="454.70,112.10 455.29,113.69 456.98,113.76 455.65,114.81 456.11,116.44 454.70,115.50 453.29,116.44 453.75,114.81 452.42,113.76 454.11,113.69" fill="#1010ff"/>
<text transform="translate(467.00,101.50) scale(1,0.93)" x="0" y="0" font-family='"Liberation Serif", serif' font-weight="bold" font-size="10.2">Au/TiO<tspan dy="2.4">2</tspan><tspan dy="-2.4"> NPs</tspan></text>
<text transform="translate(467.00,118.30) scale(1,0.93)" x="0" y="0" font-family='"Liberation Serif", serif' font-weight="bold" font-size="10.2">Ag/TiO<tspan dy="2.4">2</tspan><tspan dy="-2.4"> NPs</tspan></text>
</svg>
</body></html>
